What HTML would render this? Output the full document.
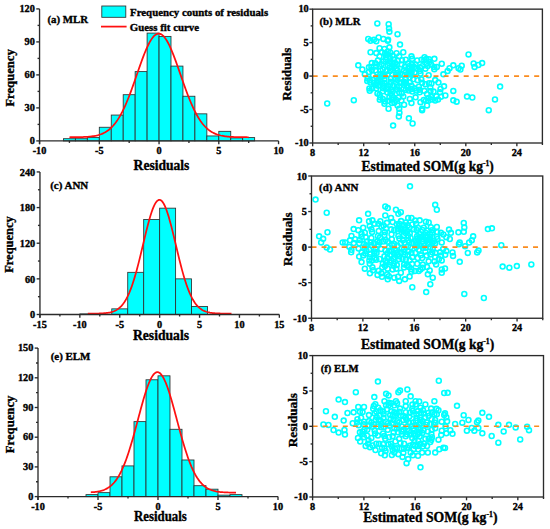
<!DOCTYPE html>
<html><head><meta charset="utf-8"><style>
html,body{margin:0;padding:0;background:#fff;width:550px;height:529px;overflow:hidden}
svg{display:block}
text{font-family:"Liberation Serif", serif;font-weight:bold;fill:#000;stroke:#000;stroke-width:0.35px}
</style></head><body>
<svg width="550" height="529" viewBox="0 0 550 529">
<rect width="550" height="529" fill="#fff"/>
<rect x="63.45" y="138.70" width="11.95" height="2.20" fill="#00FFFF" stroke="#303030" stroke-width="0.85"/>
<rect x="75.40" y="138.70" width="11.95" height="2.20" fill="#00FFFF" stroke="#303030" stroke-width="0.85"/>
<rect x="87.35" y="137.60" width="11.95" height="3.30" fill="#00FFFF" stroke="#303030" stroke-width="0.85"/>
<rect x="99.30" y="127.26" width="11.95" height="13.64" fill="#00FFFF" stroke="#303030" stroke-width="0.85"/>
<rect x="111.25" y="115.05" width="11.95" height="25.85" fill="#00FFFF" stroke="#303030" stroke-width="0.85"/>
<rect x="123.20" y="94.70" width="11.95" height="46.20" fill="#00FFFF" stroke="#303030" stroke-width="0.85"/>
<rect x="135.15" y="71.60" width="11.95" height="69.30" fill="#00FFFF" stroke="#303030" stroke-width="0.85"/>
<rect x="147.10" y="33.10" width="11.95" height="107.80" fill="#00FFFF" stroke="#303030" stroke-width="0.85"/>
<rect x="159.05" y="36.40" width="11.95" height="104.50" fill="#00FFFF" stroke="#303030" stroke-width="0.85"/>
<rect x="171.00" y="66.10" width="11.95" height="74.80" fill="#00FFFF" stroke="#303030" stroke-width="0.85"/>
<rect x="182.95" y="96.24" width="11.95" height="44.66" fill="#00FFFF" stroke="#303030" stroke-width="0.85"/>
<rect x="194.90" y="113.84" width="11.95" height="27.06" fill="#00FFFF" stroke="#303030" stroke-width="0.85"/>
<rect x="206.85" y="135.95" width="11.95" height="4.95" fill="#00FFFF" stroke="#303030" stroke-width="0.85"/>
<rect x="218.80" y="131.33" width="11.95" height="9.57" fill="#00FFFF" stroke="#303030" stroke-width="0.85"/>
<rect x="230.75" y="137.93" width="11.95" height="2.97" fill="#00FFFF" stroke="#303030" stroke-width="0.85"/>
<rect x="242.70" y="137.60" width="11.95" height="3.30" fill="#00FFFF" stroke="#303030" stroke-width="0.85"/>
<polyline points="69.42,137.25 70.55,137.24 71.67,137.24 72.79,137.23 73.91,137.22 75.03,137.21 76.15,137.19 77.27,137.18 78.39,137.16 79.51,137.13 80.63,137.10 81.75,137.07 82.87,137.03 83.99,136.99 85.11,136.93 86.23,136.87 87.35,136.79 88.47,136.71 89.59,136.60 90.71,136.49 91.83,136.35 92.95,136.19 94.07,136.02 95.19,135.81 96.31,135.58 97.43,135.31 98.55,135.00 99.67,134.66 100.79,134.27 101.91,133.84 103.03,133.35 104.15,132.80 105.27,132.19 106.40,131.52 107.52,130.77 108.64,129.94 109.76,129.03 110.88,128.03 112.00,126.93 113.12,125.74 114.24,124.44 115.36,123.03 116.48,121.52 117.60,119.88 118.72,118.13 119.84,116.26 120.96,114.26 122.08,112.15 123.20,109.91 124.32,107.55 125.44,105.07 126.56,102.48 127.68,99.77 128.80,96.97 129.92,94.07 131.04,91.09 132.16,88.03 133.28,84.90 134.40,81.73 135.52,78.52 136.64,75.28 137.76,72.05 138.88,68.83 140.00,65.63 141.12,62.49 142.25,59.42 143.37,56.43 144.49,53.55 145.61,50.80 146.73,48.20 147.85,45.76 148.97,43.51 150.09,41.45 151.21,39.61 152.33,37.99 153.45,36.62 154.57,35.50 155.69,34.63 156.81,34.04 157.93,33.71 159.05,33.66 160.17,33.89 161.29,34.39 162.41,35.15 163.53,36.18 164.65,37.47 165.77,39.00 166.89,40.76 168.01,42.74 169.13,44.93 170.25,47.30 171.37,49.85 172.49,52.55 173.61,55.38 174.73,58.33 175.85,61.37 176.97,64.49 178.10,67.67 179.22,70.89 180.34,74.12 181.46,77.35 182.58,80.57 183.70,83.76 184.82,86.91 185.94,89.99 187.06,93.01 188.18,95.94 189.30,98.78 190.42,101.51 191.54,104.15 192.66,106.67 193.78,109.07 194.90,111.35 196.02,113.51 197.14,115.55 198.26,117.47 199.38,119.27 200.50,120.94 201.62,122.50 202.74,123.95 203.86,125.28 204.98,126.51 206.10,127.64 207.22,128.68 208.34,129.62 209.46,130.48 210.58,131.25 211.70,131.96 212.82,132.59 213.95,133.16 215.07,133.67 216.19,134.12 217.31,134.53 218.43,134.89 219.55,135.20 220.67,135.48 221.79,135.73 222.91,135.94 224.03,136.13 225.15,136.30 226.27,136.44 227.39,136.56 228.51,136.67 229.63,136.76 230.75,136.84 231.87,136.91 232.99,136.97 234.11,137.02 235.23,137.06 236.35,137.09 237.47,137.12 238.59,137.15 239.71,137.17 240.83,137.19 241.95,137.20 243.07,137.21 244.19,137.22 245.31,137.23 246.43,137.24 247.55,137.25 248.68,137.25" fill="none" stroke="#FF1010" stroke-width="1.75"/>
<line x1="38.95" y1="140.90" x2="278.55" y2="140.90" stroke="#2b2b2b" stroke-width="1.35" />
<line x1="39.55" y1="144.20" x2="39.55" y2="8.90" stroke="#2b2b2b" stroke-width="1.35" />
<line x1="39.55" y1="140.90" x2="39.55" y2="144.20" stroke="#2b2b2b" stroke-width="1.35" />
<text transform="translate(39.55,153.90) scale(1.07,1)" font-size="9.6" text-anchor="middle" >-10</text>
<line x1="99.30" y1="140.90" x2="99.30" y2="144.20" stroke="#2b2b2b" stroke-width="1.35" />
<text transform="translate(99.30,153.90) scale(1.07,1)" font-size="9.6" text-anchor="middle" >-5</text>
<line x1="159.05" y1="140.90" x2="159.05" y2="144.20" stroke="#2b2b2b" stroke-width="1.35" />
<text transform="translate(159.05,153.90) scale(1.07,1)" font-size="9.6" text-anchor="middle" >0</text>
<line x1="218.80" y1="140.90" x2="218.80" y2="144.20" stroke="#2b2b2b" stroke-width="1.35" />
<text transform="translate(218.80,153.90) scale(1.07,1)" font-size="9.6" text-anchor="middle" >5</text>
<line x1="278.55" y1="140.90" x2="278.55" y2="144.20" stroke="#2b2b2b" stroke-width="1.35" />
<text transform="translate(278.55,153.90) scale(1.07,1)" font-size="9.6" text-anchor="middle" >10</text>
<line x1="69.42" y1="140.90" x2="69.42" y2="142.90" stroke="#2b2b2b" stroke-width="1.35" />
<line x1="129.18" y1="140.90" x2="129.18" y2="142.90" stroke="#2b2b2b" stroke-width="1.35" />
<line x1="188.93" y1="140.90" x2="188.93" y2="142.90" stroke="#2b2b2b" stroke-width="1.35" />
<line x1="248.68" y1="140.90" x2="248.68" y2="142.90" stroke="#2b2b2b" stroke-width="1.35" />
<line x1="39.55" y1="140.90" x2="36.25" y2="140.90" stroke="#2b2b2b" stroke-width="1.35" />
<text transform="translate(34.85,143.80) scale(1.07,1)" font-size="9.6" text-anchor="end" >0</text>
<line x1="39.55" y1="107.90" x2="36.25" y2="107.90" stroke="#2b2b2b" stroke-width="1.35" />
<text transform="translate(34.85,110.80) scale(1.07,1)" font-size="9.6" text-anchor="end" >30</text>
<line x1="39.55" y1="74.90" x2="36.25" y2="74.90" stroke="#2b2b2b" stroke-width="1.35" />
<text transform="translate(34.85,77.80) scale(1.07,1)" font-size="9.6" text-anchor="end" >60</text>
<line x1="39.55" y1="41.90" x2="36.25" y2="41.90" stroke="#2b2b2b" stroke-width="1.35" />
<text transform="translate(34.85,44.80) scale(1.07,1)" font-size="9.6" text-anchor="end" >90</text>
<line x1="39.55" y1="8.90" x2="36.25" y2="8.90" stroke="#2b2b2b" stroke-width="1.35" />
<text transform="translate(34.85,11.80) scale(1.07,1)" font-size="9.6" text-anchor="end" >120</text>
<line x1="39.55" y1="124.40" x2="37.55" y2="124.40" stroke="#2b2b2b" stroke-width="1.35" />
<line x1="39.55" y1="91.40" x2="37.55" y2="91.40" stroke="#2b2b2b" stroke-width="1.35" />
<line x1="39.55" y1="58.40" x2="37.55" y2="58.40" stroke="#2b2b2b" stroke-width="1.35" />
<line x1="39.55" y1="25.40" x2="37.55" y2="25.40" stroke="#2b2b2b" stroke-width="1.35" />
<rect x="79.85" y="313.91" width="15.96" height="0.59" fill="#00FFFF" stroke="#303030" stroke-width="0.85"/>
<rect x="111.77" y="308.86" width="15.96" height="5.64" fill="#00FFFF" stroke="#303030" stroke-width="0.85"/>
<rect x="127.73" y="272.33" width="15.96" height="42.17" fill="#00FFFF" stroke="#303030" stroke-width="0.85"/>
<rect x="143.69" y="219.46" width="15.96" height="95.04" fill="#00FFFF" stroke="#303030" stroke-width="0.85"/>
<rect x="159.65" y="208.17" width="15.96" height="106.33" fill="#00FFFF" stroke="#303030" stroke-width="0.85"/>
<rect x="175.61" y="278.86" width="15.96" height="35.64" fill="#00FFFF" stroke="#303030" stroke-width="0.85"/>
<rect x="191.57" y="306.42" width="15.96" height="8.08" fill="#00FFFF" stroke="#303030" stroke-width="0.85"/>
<polyline points="87.83,313.60 88.73,313.60 89.63,313.60 90.52,313.59 91.42,313.59 92.32,313.58 93.22,313.58 94.11,313.57 95.01,313.56 95.91,313.55 96.81,313.53 97.71,313.52 98.60,313.50 99.50,313.47 100.40,313.44 101.30,313.40 102.19,313.36 103.09,313.31 103.99,313.24 104.89,313.17 105.79,313.08 106.68,312.98 107.58,312.86 108.48,312.72 109.38,312.55 110.27,312.36 111.17,312.14 112.07,311.88 112.97,311.59 113.86,311.25 114.76,310.86 115.66,310.43 116.56,309.93 117.46,309.37 118.35,308.73 119.25,308.02 120.15,307.22 121.05,306.34 121.94,305.35 122.84,304.26 123.74,303.05 124.64,301.73 125.54,300.28 126.43,298.70 127.33,296.98 128.23,295.12 129.13,293.11 130.02,290.95 130.92,288.64 131.82,286.18 132.72,283.56 133.62,280.80 134.51,277.88 135.41,274.83 136.31,271.64 137.21,268.33 138.10,264.90 139.00,261.37 139.90,257.75 140.80,254.07 141.69,250.32 142.59,246.55 143.49,242.76 144.39,238.99 145.29,235.25 146.18,231.57 147.08,227.98 147.98,224.50 148.88,221.16 149.77,217.97 150.67,214.98 151.57,212.20 152.47,209.65 153.37,207.36 154.26,205.35 155.16,203.63 156.06,202.22 156.96,201.13 157.85,200.37 158.75,199.95 159.65,199.87 160.55,200.13 161.45,200.73 162.34,201.67 163.24,202.93 164.14,204.51 165.04,206.39 165.93,208.55 166.83,210.98 167.73,213.66 168.63,216.55 169.53,219.65 170.42,222.92 171.32,226.34 172.22,229.89 173.12,233.53 174.01,237.24 174.91,241.00 175.81,244.78 176.71,248.57 177.61,252.32 178.50,256.04 179.40,259.69 180.30,263.27 181.20,266.74 182.09,270.11 182.99,273.36 183.89,276.48 184.79,279.46 185.68,282.29 186.58,284.98 187.48,287.51 188.38,289.89 189.28,292.12 190.17,294.20 191.07,296.13 191.97,297.91 192.87,299.56 193.76,301.07 194.66,302.45 195.56,303.71 196.46,304.85 197.36,305.89 198.25,306.82 199.15,307.66 200.05,308.41 200.95,309.08 201.84,309.67 202.74,310.20 203.64,310.67 204.54,311.08 205.44,311.44 206.33,311.75 207.23,312.02 208.13,312.26 209.03,312.46 209.92,312.64 210.82,312.79 211.72,312.92 212.62,313.04 213.51,313.13 214.41,313.21 215.31,313.28 216.21,313.33 217.11,313.38 218.00,313.42 218.90,313.46 219.80,313.48 220.70,313.51 221.59,313.53 222.49,313.54 223.39,313.55 224.29,313.57 225.19,313.57 226.08,313.58 226.98,313.59 227.88,313.59 228.78,313.59 229.67,313.60 230.57,313.60 231.47,313.60" fill="none" stroke="#FF1010" stroke-width="1.75"/>
<line x1="39.35" y1="314.50" x2="279.35" y2="314.50" stroke="#2b2b2b" stroke-width="1.35" />
<line x1="39.95" y1="317.80" x2="39.95" y2="171.94" stroke="#2b2b2b" stroke-width="1.35" />
<line x1="39.95" y1="314.50" x2="39.95" y2="317.80" stroke="#2b2b2b" stroke-width="1.35" />
<text transform="translate(39.95,327.50) scale(1.07,1)" font-size="9.6" text-anchor="middle" >-15</text>
<line x1="79.85" y1="314.50" x2="79.85" y2="317.80" stroke="#2b2b2b" stroke-width="1.35" />
<text transform="translate(79.85,327.50) scale(1.07,1)" font-size="9.6" text-anchor="middle" >-10</text>
<line x1="119.75" y1="314.50" x2="119.75" y2="317.80" stroke="#2b2b2b" stroke-width="1.35" />
<text transform="translate(119.75,327.50) scale(1.07,1)" font-size="9.6" text-anchor="middle" >-5</text>
<line x1="159.65" y1="314.50" x2="159.65" y2="317.80" stroke="#2b2b2b" stroke-width="1.35" />
<text transform="translate(159.65,327.50) scale(1.07,1)" font-size="9.6" text-anchor="middle" >0</text>
<line x1="199.55" y1="314.50" x2="199.55" y2="317.80" stroke="#2b2b2b" stroke-width="1.35" />
<text transform="translate(199.55,327.50) scale(1.07,1)" font-size="9.6" text-anchor="middle" >5</text>
<line x1="239.45" y1="314.50" x2="239.45" y2="317.80" stroke="#2b2b2b" stroke-width="1.35" />
<text transform="translate(239.45,327.50) scale(1.07,1)" font-size="9.6" text-anchor="middle" >10</text>
<line x1="279.35" y1="314.50" x2="279.35" y2="317.80" stroke="#2b2b2b" stroke-width="1.35" />
<text transform="translate(279.35,327.50) scale(1.07,1)" font-size="9.6" text-anchor="middle" >15</text>
<line x1="59.90" y1="314.50" x2="59.90" y2="316.50" stroke="#2b2b2b" stroke-width="1.35" />
<line x1="99.80" y1="314.50" x2="99.80" y2="316.50" stroke="#2b2b2b" stroke-width="1.35" />
<line x1="139.70" y1="314.50" x2="139.70" y2="316.50" stroke="#2b2b2b" stroke-width="1.35" />
<line x1="179.60" y1="314.50" x2="179.60" y2="316.50" stroke="#2b2b2b" stroke-width="1.35" />
<line x1="219.50" y1="314.50" x2="219.50" y2="316.50" stroke="#2b2b2b" stroke-width="1.35" />
<line x1="259.40" y1="314.50" x2="259.40" y2="316.50" stroke="#2b2b2b" stroke-width="1.35" />
<line x1="39.95" y1="314.50" x2="36.65" y2="314.50" stroke="#2b2b2b" stroke-width="1.35" />
<text transform="translate(35.25,318.20) scale(1.07,1)" font-size="9.6" text-anchor="end" >0</text>
<line x1="39.95" y1="278.86" x2="36.65" y2="278.86" stroke="#2b2b2b" stroke-width="1.35" />
<text transform="translate(35.25,282.56) scale(1.07,1)" font-size="9.6" text-anchor="end" >60</text>
<line x1="39.95" y1="243.22" x2="36.65" y2="243.22" stroke="#2b2b2b" stroke-width="1.35" />
<text transform="translate(35.25,246.92) scale(1.07,1)" font-size="9.6" text-anchor="end" >120</text>
<line x1="39.95" y1="207.58" x2="36.65" y2="207.58" stroke="#2b2b2b" stroke-width="1.35" />
<text transform="translate(35.25,211.28) scale(1.07,1)" font-size="9.6" text-anchor="end" >180</text>
<line x1="39.95" y1="171.94" x2="36.65" y2="171.94" stroke="#2b2b2b" stroke-width="1.35" />
<text transform="translate(35.25,175.64) scale(1.07,1)" font-size="9.6" text-anchor="end" >240</text>
<line x1="39.95" y1="296.68" x2="37.95" y2="296.68" stroke="#2b2b2b" stroke-width="1.35" />
<line x1="39.95" y1="261.04" x2="37.95" y2="261.04" stroke="#2b2b2b" stroke-width="1.35" />
<line x1="39.95" y1="225.40" x2="37.95" y2="225.40" stroke="#2b2b2b" stroke-width="1.35" />
<line x1="39.95" y1="189.76" x2="37.95" y2="189.76" stroke="#2b2b2b" stroke-width="1.35" />
<rect x="86.00" y="494.62" width="12.00" height="1.98" fill="#00FFFF" stroke="#303030" stroke-width="0.85"/>
<rect x="98.00" y="492.64" width="12.00" height="3.96" fill="#00FFFF" stroke="#303030" stroke-width="0.85"/>
<rect x="110.00" y="476.80" width="12.00" height="19.80" fill="#00FFFF" stroke="#303030" stroke-width="0.85"/>
<rect x="122.00" y="465.91" width="12.00" height="30.69" fill="#00FFFF" stroke="#303030" stroke-width="0.85"/>
<rect x="134.00" y="421.61" width="12.00" height="74.99" fill="#00FFFF" stroke="#303030" stroke-width="0.85"/>
<rect x="146.00" y="379.78" width="12.00" height="116.82" fill="#00FFFF" stroke="#303030" stroke-width="0.85"/>
<rect x="158.00" y="375.82" width="12.00" height="120.78" fill="#00FFFF" stroke="#303030" stroke-width="0.85"/>
<rect x="170.00" y="429.28" width="12.00" height="67.32" fill="#00FFFF" stroke="#303030" stroke-width="0.85"/>
<rect x="182.00" y="459.97" width="12.00" height="36.63" fill="#00FFFF" stroke="#303030" stroke-width="0.85"/>
<rect x="194.00" y="485.71" width="12.00" height="10.89" fill="#00FFFF" stroke="#303030" stroke-width="0.85"/>
<rect x="206.00" y="489.18" width="12.00" height="7.43" fill="#00FFFF" stroke="#303030" stroke-width="0.85"/>
<rect x="218.00" y="495.12" width="12.00" height="1.49" fill="#00FFFF" stroke="#303030" stroke-width="0.85"/>
<rect x="230.00" y="494.62" width="12.00" height="1.98" fill="#00FFFF" stroke="#303030" stroke-width="0.85"/>
<polyline points="90.80,492.30 91.71,492.24 92.62,492.17 93.52,492.10 94.43,492.01 95.34,491.90 96.25,491.78 97.15,491.65 98.06,491.50 98.97,491.32 99.88,491.13 100.78,490.91 101.69,490.66 102.60,490.37 103.50,490.06 104.41,489.70 105.32,489.31 106.23,488.87 107.14,488.38 108.04,487.84 108.95,487.24 109.86,486.58 110.77,485.86 111.67,485.06 112.58,484.19 113.49,483.24 114.39,482.21 115.30,481.09 116.21,479.87 117.12,478.56 118.03,477.15 118.93,475.63 119.84,474.01 120.75,472.27 121.66,470.42 122.56,468.45 123.47,466.37 124.38,464.17 125.29,461.86 126.19,459.43 127.10,456.88 128.01,454.22 128.91,451.46 129.82,448.59 130.73,445.63 131.64,442.57 132.55,439.43 133.45,436.22 134.36,432.95 135.27,429.62 136.18,426.25 137.08,422.86 137.99,419.45 138.90,416.04 139.81,412.65 140.71,409.29 141.62,405.97 142.53,402.73 143.44,399.56 144.34,396.49 145.25,393.53 146.16,390.71 147.06,388.04 147.97,385.52 148.88,383.19 149.79,381.05 150.69,379.11 151.60,377.40 152.51,375.91 153.42,374.66 154.33,373.65 155.23,372.90 156.14,372.41 157.05,372.18 157.95,372.21 158.86,372.50 159.77,373.05 160.68,373.86 161.59,374.92 162.49,376.22 163.40,377.76 164.31,379.53 165.22,381.51 166.12,383.69 167.03,386.07 167.94,388.62 168.84,391.33 169.75,394.18 170.66,397.16 171.57,400.26 172.48,403.44 173.38,406.71 174.29,410.03 175.20,413.40 176.10,416.80 177.01,420.21 177.92,423.62 178.83,427.01 179.74,430.37 180.64,433.68 181.55,436.95 182.46,440.14 183.37,443.26 184.27,446.30 185.18,449.24 186.09,452.08 187.00,454.83 187.90,457.46 188.81,459.98 189.72,462.38 190.62,464.67 191.53,466.85 192.44,468.90 193.35,470.84 194.25,472.67 195.16,474.38 196.07,475.98 196.98,477.47 197.88,478.86 198.79,480.15 199.70,481.35 200.61,482.45 201.52,483.46 202.42,484.39 203.33,485.25 204.24,486.03 205.14,486.74 206.05,487.38 206.96,487.97 207.87,488.50 208.78,488.97 209.68,489.40 210.59,489.79 211.50,490.13 212.41,490.44 213.31,490.71 214.22,490.96 215.13,491.17 216.03,491.37 216.94,491.53 217.85,491.68 218.76,491.81 219.66,491.93 220.57,492.03 221.48,492.11 222.39,492.19 223.30,492.25 224.20,492.31 225.11,492.36 226.02,492.40 226.93,492.44 227.83,492.47 228.74,492.50 229.65,492.52 230.56,492.54 231.46,492.56 232.37,492.57 233.28,492.58 234.19,492.59 235.09,492.60 236.00,492.61" fill="none" stroke="#FF1010" stroke-width="1.75"/>
<line x1="37.40" y1="496.60" x2="278.00" y2="496.60" stroke="#2b2b2b" stroke-width="1.35" />
<line x1="38.00" y1="499.90" x2="38.00" y2="348.10" stroke="#2b2b2b" stroke-width="1.35" />
<line x1="38.00" y1="496.60" x2="38.00" y2="499.90" stroke="#2b2b2b" stroke-width="1.35" />
<text transform="translate(38.00,509.60) scale(1.07,1)" font-size="9.6" text-anchor="middle" >-10</text>
<line x1="98.00" y1="496.60" x2="98.00" y2="499.90" stroke="#2b2b2b" stroke-width="1.35" />
<text transform="translate(98.00,509.60) scale(1.07,1)" font-size="9.6" text-anchor="middle" >-5</text>
<line x1="158.00" y1="496.60" x2="158.00" y2="499.90" stroke="#2b2b2b" stroke-width="1.35" />
<text transform="translate(158.00,509.60) scale(1.07,1)" font-size="9.6" text-anchor="middle" >0</text>
<line x1="218.00" y1="496.60" x2="218.00" y2="499.90" stroke="#2b2b2b" stroke-width="1.35" />
<text transform="translate(218.00,509.60) scale(1.07,1)" font-size="9.6" text-anchor="middle" >5</text>
<line x1="278.00" y1="496.60" x2="278.00" y2="499.90" stroke="#2b2b2b" stroke-width="1.35" />
<text transform="translate(278.00,509.60) scale(1.07,1)" font-size="9.6" text-anchor="middle" >10</text>
<line x1="68.00" y1="496.60" x2="68.00" y2="498.60" stroke="#2b2b2b" stroke-width="1.35" />
<line x1="128.00" y1="496.60" x2="128.00" y2="498.60" stroke="#2b2b2b" stroke-width="1.35" />
<line x1="188.00" y1="496.60" x2="188.00" y2="498.60" stroke="#2b2b2b" stroke-width="1.35" />
<line x1="248.00" y1="496.60" x2="248.00" y2="498.60" stroke="#2b2b2b" stroke-width="1.35" />
<line x1="38.00" y1="496.60" x2="34.70" y2="496.60" stroke="#2b2b2b" stroke-width="1.35" />
<text transform="translate(33.30,499.80) scale(1.07,1)" font-size="9.6" text-anchor="end" >0</text>
<line x1="38.00" y1="466.90" x2="34.70" y2="466.90" stroke="#2b2b2b" stroke-width="1.35" />
<text transform="translate(33.30,470.10) scale(1.07,1)" font-size="9.6" text-anchor="end" >30</text>
<line x1="38.00" y1="437.20" x2="34.70" y2="437.20" stroke="#2b2b2b" stroke-width="1.35" />
<text transform="translate(33.30,440.40) scale(1.07,1)" font-size="9.6" text-anchor="end" >60</text>
<line x1="38.00" y1="407.50" x2="34.70" y2="407.50" stroke="#2b2b2b" stroke-width="1.35" />
<text transform="translate(33.30,410.70) scale(1.07,1)" font-size="9.6" text-anchor="end" >90</text>
<line x1="38.00" y1="377.80" x2="34.70" y2="377.80" stroke="#2b2b2b" stroke-width="1.35" />
<text transform="translate(33.30,381.00) scale(1.07,1)" font-size="9.6" text-anchor="end" >120</text>
<line x1="38.00" y1="348.10" x2="34.70" y2="348.10" stroke="#2b2b2b" stroke-width="1.35" />
<text transform="translate(33.30,351.30) scale(1.07,1)" font-size="9.6" text-anchor="end" >150</text>
<line x1="38.00" y1="481.75" x2="36.00" y2="481.75" stroke="#2b2b2b" stroke-width="1.35" />
<line x1="38.00" y1="452.05" x2="36.00" y2="452.05" stroke="#2b2b2b" stroke-width="1.35" />
<line x1="38.00" y1="422.35" x2="36.00" y2="422.35" stroke="#2b2b2b" stroke-width="1.35" />
<line x1="38.00" y1="392.65" x2="36.00" y2="392.65" stroke="#2b2b2b" stroke-width="1.35" />
<line x1="38.00" y1="362.95" x2="36.00" y2="362.95" stroke="#2b2b2b" stroke-width="1.35" />
<rect x="101.8" y="6.0" width="24" height="11.3" fill="#00FFFF" stroke="#303030" stroke-width="0.85"/>
<line x1="101.00" y1="26.60" x2="126.60" y2="26.60" stroke="#FF1010" stroke-width="1.75" />
<g fill="none" stroke="#00FFFF" stroke-width="1.6"><circle cx="327.20" cy="103.50" r="2.45"/><circle cx="353.80" cy="100.20" r="2.45"/><circle cx="393.10" cy="125.60" r="2.45"/><circle cx="412.60" cy="123.50" r="2.45"/><circle cx="377.31" cy="23.40" r="2.45"/><circle cx="388.65" cy="24.16" r="2.45"/><circle cx="389.03" cy="28.51" r="2.45"/><circle cx="389.40" cy="31.72" r="2.45"/><circle cx="397.53" cy="34.18" r="2.45"/><circle cx="368.23" cy="38.90" r="2.45"/><circle cx="373.90" cy="39.85" r="2.45"/><circle cx="378.63" cy="37.39" r="2.45"/><circle cx="383.36" cy="38.90" r="2.45"/><circle cx="388.08" cy="39.85" r="2.45"/><circle cx="449.52" cy="68.20" r="2.45"/><circle cx="453.30" cy="65.37" r="2.45"/><circle cx="447.63" cy="71.04" r="2.45"/><circle cx="453.30" cy="90.89" r="2.45"/><circle cx="453.30" cy="100.34" r="2.45"/><circle cx="422.11" cy="110.36" r="2.45"/><circle cx="399.42" cy="112.63" r="2.45"/><circle cx="398.86" cy="116.41" r="2.45"/><circle cx="408.88" cy="118.30" r="2.45"/><circle cx="468.53" cy="54.40" r="2.45"/><circle cx="458.51" cy="68.20" r="2.45"/><circle cx="461.72" cy="65.75" r="2.45"/><circle cx="460.40" cy="69.53" r="2.45"/><circle cx="473.63" cy="63.48" r="2.45"/><circle cx="474.57" cy="66.88" r="2.45"/><circle cx="478.36" cy="64.99" r="2.45"/><circle cx="482.14" cy="63.10" r="2.45"/><circle cx="500.09" cy="86.54" r="2.45"/><circle cx="456.62" cy="101.66" r="2.45"/><circle cx="467.01" cy="96.56" r="2.45"/><circle cx="472.31" cy="97.50" r="2.45"/><circle cx="494.99" cy="99.40" r="2.45"/><circle cx="488.75" cy="110.17" r="2.45"/><circle cx="370.55" cy="40.82" r="2.45"/><circle cx="376.28" cy="41.31" r="2.45"/><circle cx="387.73" cy="40.82" r="2.45"/><circle cx="400.01" cy="44.58" r="2.45"/><circle cx="379.55" cy="48.18" r="2.45"/><circle cx="389.37" cy="47.36" r="2.45"/><circle cx="384.46" cy="49.00" r="2.45"/><circle cx="370.55" cy="52.27" r="2.45"/><circle cx="376.28" cy="53.09" r="2.45"/><circle cx="382.00" cy="52.27" r="2.45"/><circle cx="387.73" cy="51.46" r="2.45"/><circle cx="403.28" cy="52.27" r="2.45"/><circle cx="379.55" cy="56.37" r="2.45"/><circle cx="386.10" cy="57.18" r="2.45"/><circle cx="392.64" cy="55.55" r="2.45"/><circle cx="399.19" cy="56.37" r="2.45"/><circle cx="411.46" cy="56.37" r="2.45"/><circle cx="424.56" cy="57.18" r="2.45"/><circle cx="434.38" cy="58.82" r="2.45"/><circle cx="377.91" cy="60.46" r="2.45"/><circle cx="383.64" cy="61.28" r="2.45"/><circle cx="390.19" cy="61.28" r="2.45"/><circle cx="397.55" cy="60.46" r="2.45"/><circle cx="405.74" cy="59.64" r="2.45"/><circle cx="417.19" cy="60.46" r="2.45"/><circle cx="429.47" cy="62.09" r="2.45"/><circle cx="441.74" cy="63.73" r="2.45"/><circle cx="358.27" cy="65.37" r="2.45"/><circle cx="371.37" cy="67.00" r="2.45"/><circle cx="379.55" cy="66.19" r="2.45"/><circle cx="387.73" cy="65.37" r="2.45"/><circle cx="394.28" cy="66.19" r="2.45"/><circle cx="401.64" cy="64.55" r="2.45"/><circle cx="409.01" cy="66.19" r="2.45"/><circle cx="415.56" cy="64.55" r="2.45"/><circle cx="422.10" cy="66.19" r="2.45"/><circle cx="431.10" cy="64.55" r="2.45"/><circle cx="436.83" cy="67.00" r="2.45"/><circle cx="362.36" cy="69.46" r="2.45"/><circle cx="368.91" cy="71.91" r="2.45"/><circle cx="375.46" cy="70.28" r="2.45"/><circle cx="382.82" cy="69.46" r="2.45"/><circle cx="390.19" cy="71.10" r="2.45"/><circle cx="397.55" cy="70.28" r="2.45"/><circle cx="404.10" cy="70.28" r="2.45"/><circle cx="411.46" cy="69.46" r="2.45"/><circle cx="419.65" cy="71.10" r="2.45"/><circle cx="425.38" cy="68.64" r="2.45"/><circle cx="364.82" cy="74.37" r="2.45"/><circle cx="373.00" cy="75.19" r="2.45"/><circle cx="380.37" cy="74.37" r="2.45"/><circle cx="387.73" cy="74.37" r="2.45"/><circle cx="395.92" cy="75.19" r="2.45"/><circle cx="402.46" cy="74.70" r="2.45"/><circle cx="410.65" cy="74.37" r="2.45"/><circle cx="420.47" cy="73.55" r="2.45"/><circle cx="428.65" cy="75.19" r="2.45"/><circle cx="443.38" cy="74.37" r="2.45"/><circle cx="370.55" cy="82.55" r="2.45"/><circle cx="377.91" cy="80.10" r="2.45"/><circle cx="384.46" cy="79.28" r="2.45"/><circle cx="391.01" cy="78.46" r="2.45"/><circle cx="397.55" cy="80.10" r="2.45"/><circle cx="405.74" cy="79.28" r="2.45"/><circle cx="413.10" cy="79.28" r="2.45"/><circle cx="421.28" cy="79.28" r="2.45"/><circle cx="435.20" cy="80.10" r="2.45"/><circle cx="438.47" cy="82.55" r="2.45"/><circle cx="376.28" cy="88.28" r="2.45"/><circle cx="383.64" cy="85.83" r="2.45"/><circle cx="390.19" cy="84.19" r="2.45"/><circle cx="396.73" cy="86.64" r="2.45"/><circle cx="404.10" cy="85.01" r="2.45"/><circle cx="411.46" cy="85.83" r="2.45"/><circle cx="418.83" cy="86.64" r="2.45"/><circle cx="425.38" cy="84.19" r="2.45"/><circle cx="430.29" cy="87.46" r="2.45"/><circle cx="379.55" cy="94.83" r="2.45"/><circle cx="386.10" cy="89.10" r="2.45"/><circle cx="392.64" cy="91.55" r="2.45"/><circle cx="399.19" cy="92.37" r="2.45"/><circle cx="405.74" cy="89.92" r="2.45"/><circle cx="412.28" cy="91.55" r="2.45"/><circle cx="419.65" cy="92.37" r="2.45"/><circle cx="427.01" cy="94.01" r="2.45"/><circle cx="433.56" cy="91.55" r="2.45"/><circle cx="440.11" cy="92.37" r="2.45"/><circle cx="382.82" cy="98.92" r="2.45"/><circle cx="389.37" cy="97.28" r="2.45"/><circle cx="395.92" cy="99.74" r="2.45"/><circle cx="403.28" cy="96.46" r="2.45"/><circle cx="409.83" cy="98.92" r="2.45"/><circle cx="415.56" cy="97.28" r="2.45"/><circle cx="428.65" cy="98.10" r="2.45"/><circle cx="435.20" cy="100.56" r="2.45"/><circle cx="384.46" cy="103.83" r="2.45"/><circle cx="391.82" cy="103.01" r="2.45"/><circle cx="397.55" cy="105.47" r="2.45"/><circle cx="404.10" cy="104.65" r="2.45"/><circle cx="411.46" cy="103.01" r="2.45"/><circle cx="420.47" cy="102.19" r="2.45"/><circle cx="427.01" cy="105.47" r="2.45"/><circle cx="388.55" cy="108.74" r="2.45"/><circle cx="399.19" cy="108.74" r="2.45"/><circle cx="422.10" cy="108.74" r="2.45"/><circle cx="393.48" cy="97.50" r="2.45"/><circle cx="377.47" cy="93.48" r="2.45"/><circle cx="391.33" cy="89.38" r="2.45"/><circle cx="409.58" cy="77.52" r="2.45"/><circle cx="386.28" cy="71.17" r="2.45"/><circle cx="390.76" cy="81.71" r="2.45"/><circle cx="397.12" cy="73.13" r="2.45"/><circle cx="399.17" cy="86.23" r="2.45"/><circle cx="408.31" cy="74.41" r="2.45"/><circle cx="376.61" cy="77.30" r="2.45"/><circle cx="389.58" cy="67.53" r="2.45"/><circle cx="401.99" cy="60.25" r="2.45"/><circle cx="384.46" cy="82.76" r="2.45"/><circle cx="373.68" cy="82.65" r="2.45"/><circle cx="371.78" cy="70.10" r="2.45"/><circle cx="409.28" cy="71.24" r="2.45"/><circle cx="369.39" cy="88.43" r="2.45"/><circle cx="385.18" cy="53.39" r="2.45"/><circle cx="391.88" cy="95.22" r="2.45"/><circle cx="380.56" cy="70.47" r="2.45"/><circle cx="383.13" cy="88.19" r="2.45"/><circle cx="387.27" cy="92.43" r="2.45"/><circle cx="392.51" cy="74.39" r="2.45"/><circle cx="368.94" cy="67.28" r="2.45"/><circle cx="380.28" cy="97.34" r="2.45"/><circle cx="404.81" cy="66.69" r="2.45"/><circle cx="393.24" cy="85.82" r="2.45"/><circle cx="382.02" cy="76.12" r="2.45"/><circle cx="397.11" cy="89.53" r="2.45"/><circle cx="396.97" cy="64.53" r="2.45"/><circle cx="382.78" cy="91.32" r="2.45"/><circle cx="377.98" cy="85.73" r="2.45"/><circle cx="399.98" cy="73.65" r="2.45"/><circle cx="411.73" cy="64.34" r="2.45"/><circle cx="417.71" cy="80.13" r="2.45"/><circle cx="403.81" cy="81.83" r="2.45"/><circle cx="396.16" cy="82.14" r="2.45"/><circle cx="407.79" cy="87.49" r="2.45"/><circle cx="400.58" cy="82.71" r="2.45"/><circle cx="395.11" cy="63.06" r="2.45"/><circle cx="367.70" cy="78.59" r="2.45"/><circle cx="380.65" cy="80.85" r="2.45"/><circle cx="406.78" cy="85.13" r="2.45"/><circle cx="405.92" cy="72.13" r="2.45"/><circle cx="389.95" cy="58.01" r="2.45"/><circle cx="408.56" cy="90.54" r="2.45"/><circle cx="400.68" cy="78.27" r="2.45"/><circle cx="411.61" cy="71.95" r="2.45"/><circle cx="394.04" cy="59.44" r="2.45"/><circle cx="392.00" cy="99.58" r="2.45"/><circle cx="392.35" cy="62.40" r="2.45"/><circle cx="391.85" cy="68.77" r="2.45"/><circle cx="369.73" cy="80.29" r="2.45"/><circle cx="408.30" cy="68.58" r="2.45"/><circle cx="398.50" cy="97.66" r="2.45"/><circle cx="385.07" cy="101.38" r="2.45"/><circle cx="367.26" cy="80.92" r="2.45"/><circle cx="394.37" cy="102.70" r="2.45"/><circle cx="401.37" cy="100.49" r="2.45"/><circle cx="375.43" cy="85.02" r="2.45"/><circle cx="384.44" cy="75.84" r="2.45"/><circle cx="388.42" cy="100.81" r="2.45"/><circle cx="414.63" cy="72.39" r="2.45"/><circle cx="387.32" cy="54.97" r="2.45"/><circle cx="382.96" cy="73.99" r="2.45"/><circle cx="379.79" cy="99.71" r="2.45"/><circle cx="375.76" cy="66.59" r="2.45"/><circle cx="381.64" cy="64.20" r="2.45"/><circle cx="388.28" cy="86.98" r="2.45"/><circle cx="414.48" cy="88.34" r="2.45"/><circle cx="390.48" cy="93.26" r="2.45"/><circle cx="380.25" cy="77.65" r="2.45"/><circle cx="396.55" cy="53.27" r="2.45"/><circle cx="369.72" cy="90.87" r="2.45"/><circle cx="371.80" cy="63.05" r="2.45"/><circle cx="409.88" cy="82.24" r="2.45"/><circle cx="406.00" cy="82.61" r="2.45"/><circle cx="414.19" cy="67.04" r="2.45"/><circle cx="401.72" cy="93.49" r="2.45"/><circle cx="385.93" cy="59.60" r="2.45"/><circle cx="372.07" cy="88.62" r="2.45"/><circle cx="389.18" cy="63.35" r="2.45"/><circle cx="395.09" cy="79.22" r="2.45"/><circle cx="376.88" cy="83.12" r="2.45"/><circle cx="398.31" cy="75.80" r="2.45"/><circle cx="403.65" cy="88.23" r="2.45"/><circle cx="390.37" cy="52.67" r="2.45"/><circle cx="382.32" cy="83.75" r="2.45"/><circle cx="411.72" cy="88.99" r="2.45"/><circle cx="375.27" cy="63.17" r="2.45"/><circle cx="396.20" cy="68.27" r="2.45"/><circle cx="419.60" cy="89.71" r="2.45"/><circle cx="423.72" cy="99.96" r="2.45"/><circle cx="440.97" cy="96.63" r="2.45"/><circle cx="429.07" cy="83.23" r="2.45"/><circle cx="422.19" cy="82.79" r="2.45"/><circle cx="431.99" cy="99.61" r="2.45"/><circle cx="431.16" cy="96.95" r="2.45"/><circle cx="444.02" cy="86.31" r="2.45"/><circle cx="440.50" cy="88.99" r="2.45"/><circle cx="431.44" cy="83.51" r="2.45"/><circle cx="416.39" cy="90.54" r="2.45"/><circle cx="445.36" cy="95.50" r="2.45"/><circle cx="428.34" cy="100.82" r="2.45"/><circle cx="436.45" cy="96.28" r="2.45"/><circle cx="425.94" cy="100.67" r="2.45"/><circle cx="430.48" cy="90.88" r="2.45"/><circle cx="438.00" cy="99.60" r="2.45"/><circle cx="424.37" cy="90.87" r="2.45"/><circle cx="427.70" cy="66.01" r="2.45"/><circle cx="421.68" cy="59.67" r="2.45"/><circle cx="434.31" cy="66.91" r="2.45"/><circle cx="411.88" cy="66.83" r="2.45"/><circle cx="420.11" cy="67.59" r="2.45"/><circle cx="426.38" cy="59.00" r="2.45"/><circle cx="408.24" cy="63.57" r="2.45"/><circle cx="424.30" cy="60.02" r="2.45"/><circle cx="434.27" cy="69.28" r="2.45"/><circle cx="426.66" cy="63.55" r="2.45"/><circle cx="416.15" cy="68.49" r="2.45"/><circle cx="428.93" cy="59.24" r="2.45"/><circle cx="412.10" cy="58.84" r="2.45"/></g>
<line x1="312.65" y1="76.08" x2="542.40" y2="76.08" stroke="#FA8C1E" stroke-width="1.6" stroke-dasharray="5 5.07"/>
<rect x="312.65" y="9.15" width="229.75" height="133.85" fill="none" stroke="#2b2b2b" stroke-width="1.35"/>
<line x1="312.65" y1="143.00" x2="312.65" y2="146.30" stroke="#2b2b2b" stroke-width="1.35" />
<text transform="translate(312.65,156.00) scale(1.07,1)" font-size="9.6" text-anchor="middle" >8</text>
<line x1="363.71" y1="143.00" x2="363.71" y2="146.30" stroke="#2b2b2b" stroke-width="1.35" />
<text transform="translate(363.71,156.00) scale(1.07,1)" font-size="9.6" text-anchor="middle" >12</text>
<line x1="414.76" y1="143.00" x2="414.76" y2="146.30" stroke="#2b2b2b" stroke-width="1.35" />
<text transform="translate(414.76,156.00) scale(1.07,1)" font-size="9.6" text-anchor="middle" >16</text>
<line x1="465.82" y1="143.00" x2="465.82" y2="146.30" stroke="#2b2b2b" stroke-width="1.35" />
<text transform="translate(465.82,156.00) scale(1.07,1)" font-size="9.6" text-anchor="middle" >20</text>
<line x1="516.87" y1="143.00" x2="516.87" y2="146.30" stroke="#2b2b2b" stroke-width="1.35" />
<text transform="translate(516.87,156.00) scale(1.07,1)" font-size="9.6" text-anchor="middle" >24</text>
<line x1="338.18" y1="143.00" x2="338.18" y2="145.00" stroke="#2b2b2b" stroke-width="1.35" />
<line x1="389.23" y1="143.00" x2="389.23" y2="145.00" stroke="#2b2b2b" stroke-width="1.35" />
<line x1="440.29" y1="143.00" x2="440.29" y2="145.00" stroke="#2b2b2b" stroke-width="1.35" />
<line x1="491.34" y1="143.00" x2="491.34" y2="145.00" stroke="#2b2b2b" stroke-width="1.35" />
<line x1="542.40" y1="143.00" x2="542.40" y2="145.00" stroke="#2b2b2b" stroke-width="1.35" />
<line x1="312.65" y1="143.00" x2="309.35" y2="143.00" stroke="#2b2b2b" stroke-width="1.35" />
<text transform="translate(308.75,146.00) scale(1.07,1)" font-size="9.6" text-anchor="end" >-10</text>
<line x1="312.65" y1="109.54" x2="309.35" y2="109.54" stroke="#2b2b2b" stroke-width="1.35" />
<text transform="translate(308.75,112.54) scale(1.07,1)" font-size="9.6" text-anchor="end" >-5</text>
<line x1="312.65" y1="76.08" x2="309.35" y2="76.08" stroke="#2b2b2b" stroke-width="1.35" />
<text transform="translate(308.75,79.08) scale(1.07,1)" font-size="9.6" text-anchor="end" >0</text>
<line x1="312.65" y1="42.61" x2="309.35" y2="42.61" stroke="#2b2b2b" stroke-width="1.35" />
<text transform="translate(308.75,45.61) scale(1.07,1)" font-size="9.6" text-anchor="end" >5</text>
<line x1="312.65" y1="9.15" x2="309.35" y2="9.15" stroke="#2b2b2b" stroke-width="1.35" />
<text transform="translate(308.75,12.15) scale(1.07,1)" font-size="9.6" text-anchor="end" >10</text>
<line x1="312.65" y1="126.27" x2="310.65" y2="126.27" stroke="#2b2b2b" stroke-width="1.35" />
<line x1="312.65" y1="92.81" x2="310.65" y2="92.81" stroke="#2b2b2b" stroke-width="1.35" />
<line x1="312.65" y1="59.34" x2="310.65" y2="59.34" stroke="#2b2b2b" stroke-width="1.35" />
<line x1="312.65" y1="25.88" x2="310.65" y2="25.88" stroke="#2b2b2b" stroke-width="1.35" />
<g fill="none" stroke="#00FFFF" stroke-width="1.6"><circle cx="315.56" cy="199.57" r="2.45"/><circle cx="326.71" cy="212.75" r="2.45"/><circle cx="327.47" cy="232.26" r="2.45"/><circle cx="319.11" cy="236.31" r="2.45"/><circle cx="323.16" cy="238.85" r="2.45"/><circle cx="321.14" cy="242.40" r="2.45"/><circle cx="326.71" cy="247.46" r="2.45"/><circle cx="330.01" cy="249.49" r="2.45"/><circle cx="342.68" cy="242.40" r="2.45"/><circle cx="345.21" cy="242.40" r="2.45"/><circle cx="410.00" cy="186.36" r="2.45"/><circle cx="353.64" cy="229.09" r="2.45"/><circle cx="463.77" cy="222.92" r="2.45"/><circle cx="464.30" cy="227.47" r="2.45"/><circle cx="463.77" cy="231.76" r="2.45"/><circle cx="449.02" cy="229.62" r="2.45"/><circle cx="450.90" cy="232.84" r="2.45"/><circle cx="446.34" cy="237.13" r="2.45"/><circle cx="449.83" cy="239.00" r="2.45"/><circle cx="458.40" cy="232.30" r="2.45"/><circle cx="473.15" cy="236.32" r="2.45"/><circle cx="471.81" cy="240.34" r="2.45"/><circle cx="469.13" cy="242.49" r="2.45"/><circle cx="459.75" cy="242.49" r="2.45"/><circle cx="458.94" cy="244.36" r="2.45"/><circle cx="465.11" cy="246.24" r="2.45"/><circle cx="501.30" cy="245.17" r="2.45"/><circle cx="487.90" cy="229.08" r="2.45"/><circle cx="491.92" cy="228.28" r="2.45"/><circle cx="446.34" cy="251.07" r="2.45"/><circle cx="452.51" cy="252.41" r="2.45"/><circle cx="453.04" cy="255.89" r="2.45"/><circle cx="467.79" cy="252.94" r="2.45"/><circle cx="477.17" cy="252.41" r="2.45"/><circle cx="478.51" cy="250.53" r="2.45"/><circle cx="459.75" cy="261.79" r="2.45"/><circle cx="445.00" cy="268.49" r="2.45"/><circle cx="502.64" cy="266.62" r="2.45"/><circle cx="509.34" cy="267.69" r="2.45"/><circle cx="516.85" cy="266.08" r="2.45"/><circle cx="531.33" cy="264.47" r="2.45"/><circle cx="464.30" cy="293.96" r="2.45"/><circle cx="483.87" cy="297.98" r="2.45"/><circle cx="385.28" cy="206.46" r="2.45"/><circle cx="387.73" cy="208.09" r="2.45"/><circle cx="395.92" cy="209.73" r="2.45"/><circle cx="398.37" cy="213.82" r="2.45"/><circle cx="400.83" cy="212.18" r="2.45"/><circle cx="435.20" cy="204.82" r="2.45"/><circle cx="436.83" cy="209.73" r="2.45"/><circle cx="368.09" cy="213.82" r="2.45"/><circle cx="359.09" cy="220.37" r="2.45"/><circle cx="385.28" cy="215.46" r="2.45"/><circle cx="391.01" cy="217.91" r="2.45"/><circle cx="408.19" cy="217.91" r="2.45"/><circle cx="411.46" cy="217.91" r="2.45"/><circle cx="419.65" cy="220.37" r="2.45"/><circle cx="374.64" cy="223.64" r="2.45"/><circle cx="380.37" cy="221.19" r="2.45"/><circle cx="386.91" cy="222.82" r="2.45"/><circle cx="392.64" cy="222.00" r="2.45"/><circle cx="399.19" cy="223.64" r="2.45"/><circle cx="404.10" cy="225.28" r="2.45"/><circle cx="412.28" cy="224.46" r="2.45"/><circle cx="423.74" cy="227.73" r="2.45"/><circle cx="436.83" cy="226.91" r="2.45"/><circle cx="363.18" cy="227.73" r="2.45"/><circle cx="369.73" cy="226.10" r="2.45"/><circle cx="358.27" cy="230.19" r="2.45"/><circle cx="364.82" cy="232.64" r="2.45"/><circle cx="371.37" cy="229.37" r="2.45"/><circle cx="378.73" cy="231.01" r="2.45"/><circle cx="386.10" cy="228.55" r="2.45"/><circle cx="394.28" cy="230.19" r="2.45"/><circle cx="400.83" cy="229.37" r="2.45"/><circle cx="407.37" cy="231.01" r="2.45"/><circle cx="413.92" cy="229.37" r="2.45"/><circle cx="418.01" cy="227.73" r="2.45"/><circle cx="425.38" cy="232.64" r="2.45"/><circle cx="431.92" cy="230.19" r="2.45"/><circle cx="440.92" cy="232.64" r="2.45"/><circle cx="361.55" cy="236.73" r="2.45"/><circle cx="371.37" cy="237.88" r="2.45"/><circle cx="377.91" cy="235.92" r="2.45"/><circle cx="384.46" cy="235.10" r="2.45"/><circle cx="391.82" cy="239.19" r="2.45"/><circle cx="398.37" cy="235.92" r="2.45"/><circle cx="404.10" cy="235.10" r="2.45"/><circle cx="410.65" cy="237.88" r="2.45"/><circle cx="417.19" cy="235.92" r="2.45"/><circle cx="423.74" cy="239.19" r="2.45"/><circle cx="430.29" cy="236.73" r="2.45"/><circle cx="436.83" cy="236.73" r="2.45"/><circle cx="441.74" cy="242.46" r="2.45"/><circle cx="364.00" cy="244.10" r="2.45"/><circle cx="370.55" cy="242.46" r="2.45"/><circle cx="379.55" cy="242.46" r="2.45"/><circle cx="387.73" cy="241.64" r="2.45"/><circle cx="394.28" cy="244.10" r="2.45"/><circle cx="400.83" cy="243.28" r="2.45"/><circle cx="409.01" cy="242.46" r="2.45"/><circle cx="415.56" cy="243.28" r="2.45"/><circle cx="422.10" cy="241.64" r="2.45"/><circle cx="428.65" cy="244.10" r="2.45"/><circle cx="435.20" cy="243.28" r="2.45"/><circle cx="366.46" cy="250.65" r="2.45"/><circle cx="374.64" cy="251.46" r="2.45"/><circle cx="381.19" cy="249.01" r="2.45"/><circle cx="389.37" cy="250.65" r="2.45"/><circle cx="397.55" cy="252.28" r="2.45"/><circle cx="404.10" cy="249.01" r="2.45"/><circle cx="411.46" cy="253.10" r="2.45"/><circle cx="418.83" cy="249.83" r="2.45"/><circle cx="425.38" cy="251.46" r="2.45"/><circle cx="432.74" cy="249.01" r="2.45"/><circle cx="440.11" cy="252.28" r="2.45"/><circle cx="361.55" cy="262.10" r="2.45"/><circle cx="369.73" cy="257.19" r="2.45"/><circle cx="376.28" cy="259.65" r="2.45"/><circle cx="384.46" cy="256.37" r="2.45"/><circle cx="391.01" cy="260.47" r="2.45"/><circle cx="399.19" cy="256.37" r="2.45"/><circle cx="405.74" cy="259.65" r="2.45"/><circle cx="412.28" cy="257.19" r="2.45"/><circle cx="422.10" cy="258.01" r="2.45"/><circle cx="428.65" cy="261.28" r="2.45"/><circle cx="435.20" cy="257.19" r="2.45"/><circle cx="441.74" cy="260.47" r="2.45"/><circle cx="369.73" cy="263.74" r="2.45"/><circle cx="382.82" cy="263.74" r="2.45"/><circle cx="404.10" cy="264.56" r="2.45"/><circle cx="417.19" cy="263.74" r="2.45"/><circle cx="364.82" cy="268.64" r="2.45"/><circle cx="373.00" cy="270.27" r="2.45"/><circle cx="378.73" cy="270.77" r="2.45"/><circle cx="382.00" cy="276.82" r="2.45"/><circle cx="387.73" cy="279.28" r="2.45"/><circle cx="387.73" cy="268.64" r="2.45"/><circle cx="392.64" cy="269.46" r="2.45"/><circle cx="394.28" cy="277.64" r="2.45"/><circle cx="399.19" cy="280.91" r="2.45"/><circle cx="404.92" cy="279.28" r="2.45"/><circle cx="400.83" cy="272.73" r="2.45"/><circle cx="409.01" cy="267.00" r="2.45"/><circle cx="414.74" cy="271.09" r="2.45"/><circle cx="420.47" cy="269.46" r="2.45"/><circle cx="427.01" cy="267.00" r="2.45"/><circle cx="427.83" cy="274.37" r="2.45"/><circle cx="432.74" cy="277.64" r="2.45"/><circle cx="430.29" cy="284.19" r="2.45"/><circle cx="412.28" cy="287.13" r="2.45"/><circle cx="426.19" cy="292.04" r="2.45"/><circle cx="441.74" cy="269.46" r="2.45"/><circle cx="441.74" cy="272.73" r="2.45"/><circle cx="404.30" cy="252.01" r="2.45"/><circle cx="404.70" cy="242.70" r="2.45"/><circle cx="433.99" cy="241.20" r="2.45"/><circle cx="387.45" cy="253.15" r="2.45"/><circle cx="394.94" cy="257.00" r="2.45"/><circle cx="407.56" cy="254.91" r="2.45"/><circle cx="415.34" cy="252.83" r="2.45"/><circle cx="420.36" cy="245.18" r="2.45"/><circle cx="351.43" cy="249.80" r="2.45"/><circle cx="395.59" cy="250.68" r="2.45"/><circle cx="369.90" cy="273.33" r="2.45"/><circle cx="405.76" cy="222.59" r="2.45"/><circle cx="361.66" cy="252.34" r="2.45"/><circle cx="363.32" cy="255.42" r="2.45"/><circle cx="407.99" cy="235.86" r="2.45"/><circle cx="409.63" cy="260.13" r="2.45"/><circle cx="400.92" cy="253.06" r="2.45"/><circle cx="408.31" cy="240.21" r="2.45"/><circle cx="383.56" cy="225.46" r="2.45"/><circle cx="399.33" cy="238.58" r="2.45"/><circle cx="366.67" cy="241.80" r="2.45"/><circle cx="422.63" cy="267.68" r="2.45"/><circle cx="382.18" cy="267.45" r="2.45"/><circle cx="379.61" cy="258.99" r="2.45"/><circle cx="372.38" cy="267.22" r="2.45"/><circle cx="349.30" cy="246.84" r="2.45"/><circle cx="365.29" cy="253.38" r="2.45"/><circle cx="359.17" cy="256.56" r="2.45"/><circle cx="426.64" cy="255.52" r="2.45"/><circle cx="391.17" cy="229.35" r="2.45"/><circle cx="374.67" cy="257.99" r="2.45"/><circle cx="383.45" cy="241.54" r="2.45"/><circle cx="385.64" cy="240.06" r="2.45"/><circle cx="420.99" cy="255.28" r="2.45"/><circle cx="350.08" cy="240.27" r="2.45"/><circle cx="425.66" cy="236.23" r="2.45"/><circle cx="419.32" cy="234.18" r="2.45"/><circle cx="393.54" cy="259.13" r="2.45"/><circle cx="416.09" cy="223.77" r="2.45"/><circle cx="393.50" cy="265.83" r="2.45"/><circle cx="366.16" cy="245.50" r="2.45"/><circle cx="385.52" cy="250.38" r="2.45"/><circle cx="401.79" cy="248.07" r="2.45"/><circle cx="406.90" cy="265.28" r="2.45"/><circle cx="434.49" cy="261.51" r="2.45"/><circle cx="359.25" cy="243.28" r="2.45"/><circle cx="374.18" cy="243.18" r="2.45"/><circle cx="378.15" cy="244.71" r="2.45"/><circle cx="422.80" cy="264.53" r="2.45"/><circle cx="428.71" cy="222.48" r="2.45"/><circle cx="374.33" cy="253.80" r="2.45"/><circle cx="412.00" cy="243.30" r="2.45"/><circle cx="402.56" cy="258.98" r="2.45"/><circle cx="432.27" cy="252.30" r="2.45"/><circle cx="390.18" cy="254.86" r="2.45"/><circle cx="403.99" cy="267.39" r="2.45"/><circle cx="377.33" cy="241.29" r="2.45"/><circle cx="391.50" cy="234.29" r="2.45"/><circle cx="378.37" cy="223.87" r="2.45"/><circle cx="358.61" cy="248.56" r="2.45"/><circle cx="397.69" cy="231.07" r="2.45"/><circle cx="443.10" cy="248.97" r="2.45"/><circle cx="398.05" cy="276.70" r="2.45"/><circle cx="377.57" cy="274.94" r="2.45"/><circle cx="412.05" cy="264.00" r="2.45"/><circle cx="430.40" cy="254.44" r="2.45"/><circle cx="404.88" cy="254.68" r="2.45"/><circle cx="422.48" cy="230.01" r="2.45"/><circle cx="393.70" cy="263.45" r="2.45"/><circle cx="430.34" cy="239.98" r="2.45"/><circle cx="376.58" cy="253.03" r="2.45"/><circle cx="365.67" cy="237.05" r="2.45"/><circle cx="436.10" cy="264.38" r="2.45"/><circle cx="396.85" cy="224.27" r="2.45"/><circle cx="405.74" cy="233.04" r="2.45"/><circle cx="359.70" cy="240.02" r="2.45"/><circle cx="418.68" cy="271.06" r="2.45"/><circle cx="425.89" cy="221.71" r="2.45"/><circle cx="391.77" cy="251.11" r="2.45"/><circle cx="351.47" cy="235.93" r="2.45"/><circle cx="415.76" cy="240.85" r="2.45"/><circle cx="355.11" cy="239.20" r="2.45"/><circle cx="410.46" cy="247.36" r="2.45"/><circle cx="404.55" cy="228.35" r="2.45"/><circle cx="380.04" cy="237.35" r="2.45"/><circle cx="397.43" cy="245.85" r="2.45"/><circle cx="388.85" cy="276.16" r="2.45"/><circle cx="371.44" cy="245.04" r="2.45"/><circle cx="409.11" cy="227.41" r="2.45"/><circle cx="384.77" cy="232.17" r="2.45"/><circle cx="387.47" cy="257.76" r="2.45"/><circle cx="401.04" cy="221.03" r="2.45"/><circle cx="372.39" cy="220.32" r="2.45"/><circle cx="394.12" cy="253.46" r="2.45"/><circle cx="407.73" cy="225.27" r="2.45"/><circle cx="361.51" cy="233.78" r="2.45"/><circle cx="416.21" cy="246.97" r="2.45"/><circle cx="375.55" cy="248.85" r="2.45"/><circle cx="440.97" cy="255.54" r="2.45"/><circle cx="390.02" cy="262.56" r="2.45"/><circle cx="381.44" cy="226.57" r="2.45"/><circle cx="438.97" cy="259.00" r="2.45"/><circle cx="372.01" cy="260.60" r="2.45"/><circle cx="396.27" cy="268.71" r="2.45"/><circle cx="396.81" cy="265.05" r="2.45"/><circle cx="369.04" cy="221.31" r="2.45"/><circle cx="399.02" cy="259.14" r="2.45"/><circle cx="426.82" cy="230.47" r="2.45"/><circle cx="445.21" cy="254.76" r="2.45"/><circle cx="398.19" cy="228.75" r="2.45"/><circle cx="411.46" cy="271.74" r="2.45"/><circle cx="369.01" cy="249.55" r="2.45"/><circle cx="384.99" cy="266.03" r="2.45"/><circle cx="418.67" cy="240.59" r="2.45"/><circle cx="419.96" cy="236.94" r="2.45"/><circle cx="369.34" cy="260.62" r="2.45"/><circle cx="402.88" cy="240.34" r="2.45"/><circle cx="417.46" cy="238.49" r="2.45"/><circle cx="381.37" cy="273.32" r="2.45"/><circle cx="392.03" cy="245.04" r="2.45"/><circle cx="417.77" cy="257.99" r="2.45"/><circle cx="385.45" cy="260.74" r="2.45"/><circle cx="365.13" cy="247.56" r="2.45"/><circle cx="351.15" cy="252.24" r="2.45"/><circle cx="397.20" cy="254.73" r="2.45"/><circle cx="407.84" cy="246.19" r="2.45"/><circle cx="399.07" cy="225.97" r="2.45"/><circle cx="408.68" cy="251.40" r="2.45"/><circle cx="409.77" cy="233.36" r="2.45"/><circle cx="409.60" cy="276.53" r="2.45"/><circle cx="411.30" cy="269.23" r="2.45"/><circle cx="416.61" cy="229.90" r="2.45"/><circle cx="353.79" cy="243.07" r="2.45"/><circle cx="429.70" cy="270.46" r="2.45"/><circle cx="370.41" cy="254.24" r="2.45"/><circle cx="386.73" cy="262.82" r="2.45"/><circle cx="428.78" cy="241.79" r="2.45"/><circle cx="372.07" cy="231.88" r="2.45"/><circle cx="403.58" cy="231.24" r="2.45"/><circle cx="387.14" cy="274.32" r="2.45"/><circle cx="415.25" cy="220.58" r="2.45"/><circle cx="430.28" cy="247.19" r="2.45"/><circle cx="388.96" cy="247.41" r="2.45"/><circle cx="432.09" cy="232.87" r="2.45"/><circle cx="437.36" cy="232.14" r="2.45"/><circle cx="432.33" cy="243.12" r="2.45"/><circle cx="427.72" cy="237.75" r="2.45"/><circle cx="430.05" cy="233.94" r="2.45"/><circle cx="437.47" cy="238.97" r="2.45"/><circle cx="430.88" cy="227.22" r="2.45"/><circle cx="443.35" cy="234.39" r="2.45"/><circle cx="422.91" cy="247.85" r="2.45"/><circle cx="423.85" cy="245.74" r="2.45"/><circle cx="417.34" cy="244.75" r="2.45"/><circle cx="435.34" cy="252.79" r="2.45"/><circle cx="422.85" cy="236.34" r="2.45"/><circle cx="426.65" cy="240.22" r="2.45"/><circle cx="425.69" cy="247.72" r="2.45"/></g>
<line x1="311.50" y1="247.12" x2="542.75" y2="247.12" stroke="#FA8C1E" stroke-width="1.6" stroke-dasharray="5 5.07"/>
<rect x="311.50" y="176.00" width="231.25" height="142.25" fill="none" stroke="#2b2b2b" stroke-width="1.35"/>
<line x1="311.50" y1="318.25" x2="311.50" y2="321.55" stroke="#2b2b2b" stroke-width="1.35" />
<text transform="translate(311.50,331.25) scale(1.07,1)" font-size="9.6" text-anchor="middle" >8</text>
<line x1="362.89" y1="318.25" x2="362.89" y2="321.55" stroke="#2b2b2b" stroke-width="1.35" />
<text transform="translate(362.89,331.25) scale(1.07,1)" font-size="9.6" text-anchor="middle" >12</text>
<line x1="414.28" y1="318.25" x2="414.28" y2="321.55" stroke="#2b2b2b" stroke-width="1.35" />
<text transform="translate(414.28,331.25) scale(1.07,1)" font-size="9.6" text-anchor="middle" >16</text>
<line x1="465.67" y1="318.25" x2="465.67" y2="321.55" stroke="#2b2b2b" stroke-width="1.35" />
<text transform="translate(465.67,331.25) scale(1.07,1)" font-size="9.6" text-anchor="middle" >20</text>
<line x1="517.06" y1="318.25" x2="517.06" y2="321.55" stroke="#2b2b2b" stroke-width="1.35" />
<text transform="translate(517.06,331.25) scale(1.07,1)" font-size="9.6" text-anchor="middle" >24</text>
<line x1="337.19" y1="318.25" x2="337.19" y2="320.25" stroke="#2b2b2b" stroke-width="1.35" />
<line x1="388.58" y1="318.25" x2="388.58" y2="320.25" stroke="#2b2b2b" stroke-width="1.35" />
<line x1="439.97" y1="318.25" x2="439.97" y2="320.25" stroke="#2b2b2b" stroke-width="1.35" />
<line x1="491.36" y1="318.25" x2="491.36" y2="320.25" stroke="#2b2b2b" stroke-width="1.35" />
<line x1="542.75" y1="318.25" x2="542.75" y2="320.25" stroke="#2b2b2b" stroke-width="1.35" />
<line x1="311.50" y1="318.25" x2="308.20" y2="318.25" stroke="#2b2b2b" stroke-width="1.35" />
<text transform="translate(306.90,322.05) scale(1.07,1)" font-size="9.6" text-anchor="end" >-10</text>
<line x1="311.50" y1="282.69" x2="308.20" y2="282.69" stroke="#2b2b2b" stroke-width="1.35" />
<text transform="translate(306.90,286.49) scale(1.07,1)" font-size="9.6" text-anchor="end" >-5</text>
<line x1="311.50" y1="247.12" x2="308.20" y2="247.12" stroke="#2b2b2b" stroke-width="1.35" />
<text transform="translate(306.90,250.93) scale(1.07,1)" font-size="9.6" text-anchor="end" >0</text>
<line x1="311.50" y1="211.56" x2="308.20" y2="211.56" stroke="#2b2b2b" stroke-width="1.35" />
<text transform="translate(306.90,215.36) scale(1.07,1)" font-size="9.6" text-anchor="end" >5</text>
<line x1="311.50" y1="176.00" x2="308.20" y2="176.00" stroke="#2b2b2b" stroke-width="1.35" />
<text transform="translate(306.90,179.80) scale(1.07,1)" font-size="9.6" text-anchor="end" >10</text>
<line x1="311.50" y1="300.47" x2="309.50" y2="300.47" stroke="#2b2b2b" stroke-width="1.35" />
<line x1="311.50" y1="264.91" x2="309.50" y2="264.91" stroke="#2b2b2b" stroke-width="1.35" />
<line x1="311.50" y1="229.34" x2="309.50" y2="229.34" stroke="#2b2b2b" stroke-width="1.35" />
<line x1="311.50" y1="193.78" x2="309.50" y2="193.78" stroke="#2b2b2b" stroke-width="1.35" />
<g fill="none" stroke="#00FFFF" stroke-width="1.6"><circle cx="325.94" cy="411.25" r="2.45"/><circle cx="334.81" cy="416.82" r="2.45"/><circle cx="323.40" cy="424.42" r="2.45"/><circle cx="328.47" cy="424.93" r="2.45"/><circle cx="333.54" cy="430.00" r="2.45"/><circle cx="338.61" cy="432.53" r="2.45"/><circle cx="344.94" cy="434.56" r="2.45"/><circle cx="344.44" cy="430.00" r="2.45"/><circle cx="338.61" cy="399.59" r="2.45"/><circle cx="344.94" cy="402.12" r="2.45"/><circle cx="347.48" cy="413.02" r="2.45"/><circle cx="343.68" cy="420.62" r="2.45"/><circle cx="353.64" cy="412.36" r="2.45"/><circle cx="352.73" cy="423.27" r="2.45"/><circle cx="447.67" cy="392.80" r="2.45"/><circle cx="457.00" cy="405.87" r="2.45"/><circle cx="445.00" cy="413.33" r="2.45"/><circle cx="446.33" cy="417.33" r="2.45"/><circle cx="447.13" cy="421.33" r="2.45"/><circle cx="463.67" cy="415.20" r="2.45"/><circle cx="468.47" cy="420.00" r="2.45"/><circle cx="462.33" cy="422.67" r="2.45"/><circle cx="455.13" cy="424.00" r="2.45"/><circle cx="477.00" cy="422.13" r="2.45"/><circle cx="478.33" cy="420.53" r="2.45"/><circle cx="482.33" cy="412.80" r="2.45"/><circle cx="489.00" cy="416.80" r="2.45"/><circle cx="498.33" cy="424.80" r="2.45"/><circle cx="509.00" cy="424.80" r="2.45"/><circle cx="515.67" cy="427.47" r="2.45"/><circle cx="527.13" cy="426.67" r="2.45"/><circle cx="529.00" cy="430.13" r="2.45"/><circle cx="466.87" cy="430.67" r="2.45"/><circle cx="471.67" cy="428.00" r="2.45"/><circle cx="474.33" cy="430.67" r="2.45"/><circle cx="478.33" cy="428.00" r="2.45"/><circle cx="482.33" cy="433.33" r="2.45"/><circle cx="450.33" cy="430.13" r="2.45"/><circle cx="446.33" cy="433.33" r="2.45"/><circle cx="452.47" cy="433.87" r="2.45"/><circle cx="491.67" cy="436.00" r="2.45"/><circle cx="503.67" cy="431.47" r="2.45"/><circle cx="498.33" cy="442.67" r="2.45"/><circle cx="520.20" cy="439.47" r="2.45"/><circle cx="445.00" cy="448.00" r="2.45"/><circle cx="377.91" cy="381.55" r="2.45"/><circle cx="438.80" cy="380.73" r="2.45"/><circle cx="355.82" cy="392.18" r="2.45"/><circle cx="374.31" cy="397.09" r="2.45"/><circle cx="386.10" cy="393.82" r="2.45"/><circle cx="388.55" cy="395.46" r="2.45"/><circle cx="398.37" cy="392.18" r="2.45"/><circle cx="400.01" cy="390.55" r="2.45"/><circle cx="407.37" cy="389.40" r="2.45"/><circle cx="384.46" cy="401.19" r="2.45"/><circle cx="395.92" cy="401.19" r="2.45"/><circle cx="410.65" cy="396.28" r="2.45"/><circle cx="405.74" cy="401.19" r="2.45"/><circle cx="415.56" cy="401.19" r="2.45"/><circle cx="434.38" cy="401.19" r="2.45"/><circle cx="444.20" cy="393.00" r="2.45"/><circle cx="358.27" cy="406.91" r="2.45"/><circle cx="364.00" cy="406.91" r="2.45"/><circle cx="373.82" cy="406.10" r="2.45"/><circle cx="380.37" cy="410.19" r="2.45"/><circle cx="386.91" cy="409.37" r="2.45"/><circle cx="394.28" cy="405.28" r="2.45"/><circle cx="400.01" cy="408.55" r="2.45"/><circle cx="405.74" cy="406.10" r="2.45"/><circle cx="412.28" cy="408.55" r="2.45"/><circle cx="420.47" cy="407.73" r="2.45"/><circle cx="425.38" cy="404.46" r="2.45"/><circle cx="431.10" cy="408.55" r="2.45"/><circle cx="438.47" cy="410.19" r="2.45"/><circle cx="359.91" cy="411.82" r="2.45"/><circle cx="368.91" cy="415.10" r="2.45"/><circle cx="374.64" cy="413.46" r="2.45"/><circle cx="383.64" cy="414.28" r="2.45"/><circle cx="390.19" cy="415.10" r="2.45"/><circle cx="396.73" cy="413.46" r="2.45"/><circle cx="403.28" cy="415.92" r="2.45"/><circle cx="409.83" cy="412.64" r="2.45"/><circle cx="416.37" cy="414.28" r="2.45"/><circle cx="423.74" cy="413.46" r="2.45"/><circle cx="428.65" cy="415.92" r="2.45"/><circle cx="436.83" cy="414.28" r="2.45"/><circle cx="444.20" cy="415.10" r="2.45"/><circle cx="357.45" cy="419.19" r="2.45"/><circle cx="364.00" cy="421.64" r="2.45"/><circle cx="371.37" cy="422.46" r="2.45"/><circle cx="378.73" cy="420.01" r="2.45"/><circle cx="386.10" cy="421.64" r="2.45"/><circle cx="393.46" cy="420.01" r="2.45"/><circle cx="399.19" cy="422.46" r="2.45"/><circle cx="406.55" cy="420.01" r="2.45"/><circle cx="413.10" cy="422.46" r="2.45"/><circle cx="420.47" cy="420.01" r="2.45"/><circle cx="427.01" cy="422.46" r="2.45"/><circle cx="435.20" cy="420.01" r="2.45"/><circle cx="441.74" cy="421.64" r="2.45"/><circle cx="359.91" cy="432.28" r="2.45"/><circle cx="367.27" cy="429.83" r="2.45"/><circle cx="374.64" cy="430.65" r="2.45"/><circle cx="381.19" cy="427.37" r="2.45"/><circle cx="387.73" cy="429.83" r="2.45"/><circle cx="394.28" cy="428.19" r="2.45"/><circle cx="401.64" cy="431.46" r="2.45"/><circle cx="407.37" cy="429.01" r="2.45"/><circle cx="413.92" cy="430.65" r="2.45"/><circle cx="420.47" cy="429.01" r="2.45"/><circle cx="427.83" cy="431.46" r="2.45"/><circle cx="435.20" cy="428.19" r="2.45"/><circle cx="441.74" cy="430.65" r="2.45"/><circle cx="364.00" cy="437.19" r="2.45"/><circle cx="371.37" cy="438.01" r="2.45"/><circle cx="377.91" cy="435.56" r="2.45"/><circle cx="385.28" cy="438.83" r="2.45"/><circle cx="392.64" cy="436.37" r="2.45"/><circle cx="399.19" cy="438.83" r="2.45"/><circle cx="405.74" cy="436.37" r="2.45"/><circle cx="412.28" cy="438.01" r="2.45"/><circle cx="419.65" cy="436.37" r="2.45"/><circle cx="425.38" cy="438.83" r="2.45"/><circle cx="431.92" cy="437.19" r="2.45"/><circle cx="438.47" cy="439.65" r="2.45"/><circle cx="368.09" cy="443.74" r="2.45"/><circle cx="376.28" cy="443.74" r="2.45"/><circle cx="391.01" cy="443.74" r="2.45"/><circle cx="404.10" cy="443.74" r="2.45"/><circle cx="420.47" cy="443.74" r="2.45"/><circle cx="430.29" cy="442.10" r="2.45"/><circle cx="365.64" cy="446.00" r="2.45"/><circle cx="375.46" cy="450.09" r="2.45"/><circle cx="382.00" cy="447.64" r="2.45"/><circle cx="381.19" cy="453.37" r="2.45"/><circle cx="388.55" cy="444.36" r="2.45"/><circle cx="392.64" cy="450.09" r="2.45"/><circle cx="391.82" cy="455.00" r="2.45"/><circle cx="398.37" cy="454.18" r="2.45"/><circle cx="394.28" cy="452.55" r="2.45"/><circle cx="404.10" cy="448.46" r="2.45"/><circle cx="407.37" cy="447.64" r="2.45"/><circle cx="410.65" cy="452.55" r="2.45"/><circle cx="408.19" cy="459.09" r="2.45"/><circle cx="406.55" cy="463.19" r="2.45"/><circle cx="418.01" cy="446.00" r="2.45"/><circle cx="418.01" cy="455.82" r="2.45"/><circle cx="422.10" cy="452.55" r="2.45"/><circle cx="427.83" cy="452.55" r="2.45"/><circle cx="427.01" cy="446.00" r="2.45"/><circle cx="435.20" cy="452.55" r="2.45"/><circle cx="439.29" cy="449.27" r="2.45"/><circle cx="443.38" cy="447.64" r="2.45"/><circle cx="420.47" cy="467.28" r="2.45"/><circle cx="418.24" cy="427.13" r="2.45"/><circle cx="430.12" cy="424.19" r="2.45"/><circle cx="383.16" cy="433.50" r="2.45"/><circle cx="441.23" cy="435.01" r="2.45"/><circle cx="409.09" cy="416.65" r="2.45"/><circle cx="384.06" cy="427.00" r="2.45"/><circle cx="403.35" cy="452.79" r="2.45"/><circle cx="393.64" cy="432.40" r="2.45"/><circle cx="418.21" cy="449.31" r="2.45"/><circle cx="413.16" cy="428.41" r="2.45"/><circle cx="388.60" cy="405.25" r="2.45"/><circle cx="417.69" cy="434.28" r="2.45"/><circle cx="435.56" cy="422.65" r="2.45"/><circle cx="421.02" cy="423.30" r="2.45"/><circle cx="368.58" cy="440.31" r="2.45"/><circle cx="415.23" cy="435.63" r="2.45"/><circle cx="360.19" cy="441.51" r="2.45"/><circle cx="391.75" cy="423.47" r="2.45"/><circle cx="422.44" cy="421.35" r="2.45"/><circle cx="419.44" cy="432.79" r="2.45"/><circle cx="419.18" cy="401.38" r="2.45"/><circle cx="384.29" cy="436.11" r="2.45"/><circle cx="412.87" cy="455.33" r="2.45"/><circle cx="384.44" cy="448.40" r="2.45"/><circle cx="392.81" cy="415.45" r="2.45"/><circle cx="363.83" cy="424.33" r="2.45"/><circle cx="405.85" cy="417.74" r="2.45"/><circle cx="388.75" cy="402.80" r="2.45"/><circle cx="401.83" cy="426.51" r="2.45"/><circle cx="369.97" cy="447.22" r="2.45"/><circle cx="376.69" cy="417.11" r="2.45"/><circle cx="367.13" cy="435.70" r="2.45"/><circle cx="433.93" cy="424.94" r="2.45"/><circle cx="405.87" cy="412.18" r="2.45"/><circle cx="391.05" cy="403.18" r="2.45"/><circle cx="383.52" cy="418.09" r="2.45"/><circle cx="406.91" cy="434.34" r="2.45"/><circle cx="394.34" cy="412.31" r="2.45"/><circle cx="397.08" cy="403.23" r="2.45"/><circle cx="379.65" cy="415.66" r="2.45"/><circle cx="413.65" cy="433.90" r="2.45"/><circle cx="373.20" cy="408.80" r="2.45"/><circle cx="385.57" cy="450.96" r="2.45"/><circle cx="378.26" cy="407.71" r="2.45"/><circle cx="407.40" cy="426.34" r="2.45"/><circle cx="397.65" cy="425.38" r="2.45"/><circle cx="413.68" cy="414.60" r="2.45"/><circle cx="418.33" cy="440.83" r="2.45"/><circle cx="408.92" cy="430.97" r="2.45"/><circle cx="400.45" cy="442.90" r="2.45"/><circle cx="383.08" cy="444.23" r="2.45"/><circle cx="420.89" cy="413.11" r="2.45"/><circle cx="423.93" cy="443.75" r="2.45"/><circle cx="376.30" cy="411.60" r="2.45"/><circle cx="372.22" cy="426.73" r="2.45"/><circle cx="428.35" cy="413.00" r="2.45"/><circle cx="388.04" cy="423.19" r="2.45"/><circle cx="415.94" cy="425.62" r="2.45"/><circle cx="396.72" cy="428.55" r="2.45"/><circle cx="420.21" cy="417.61" r="2.45"/><circle cx="395.15" cy="415.58" r="2.45"/><circle cx="386.01" cy="405.17" r="2.45"/><circle cx="364.52" cy="429.51" r="2.45"/><circle cx="358.67" cy="425.17" r="2.45"/><circle cx="412.90" cy="444.59" r="2.45"/><circle cx="410.80" cy="434.39" r="2.45"/><circle cx="373.96" cy="424.58" r="2.45"/><circle cx="381.26" cy="424.06" r="2.45"/><circle cx="409.10" cy="422.59" r="2.45"/><circle cx="380.93" cy="420.94" r="2.45"/><circle cx="403.33" cy="429.53" r="2.45"/><circle cx="395.43" cy="441.46" r="2.45"/><circle cx="403.30" cy="420.10" r="2.45"/><circle cx="428.74" cy="438.59" r="2.45"/><circle cx="423.00" cy="446.28" r="2.45"/><circle cx="418.02" cy="411.10" r="2.45"/><circle cx="397.09" cy="421.14" r="2.45"/><circle cx="377.95" cy="426.47" r="2.45"/><circle cx="401.98" cy="434.16" r="2.45"/><circle cx="389.07" cy="437.20" r="2.45"/><circle cx="402.54" cy="456.90" r="2.45"/><circle cx="362.55" cy="431.39" r="2.45"/><circle cx="375.14" cy="433.45" r="2.45"/><circle cx="390.77" cy="418.49" r="2.45"/><circle cx="372.56" cy="445.40" r="2.45"/><circle cx="431.69" cy="429.91" r="2.45"/><circle cx="412.83" cy="410.95" r="2.45"/><circle cx="362.41" cy="434.23" r="2.45"/><circle cx="431.38" cy="433.98" r="2.45"/><circle cx="431.26" cy="439.77" r="2.45"/><circle cx="391.59" cy="411.37" r="2.45"/><circle cx="361.08" cy="417.74" r="2.45"/><circle cx="431.79" cy="412.62" r="2.45"/><circle cx="357.99" cy="437.89" r="2.45"/><circle cx="391.80" cy="446.44" r="2.45"/><circle cx="362.56" cy="412.04" r="2.45"/><circle cx="384.81" cy="455.26" r="2.45"/><circle cx="375.35" cy="404.14" r="2.45"/><circle cx="397.89" cy="432.28" r="2.45"/><circle cx="445.54" cy="426.37" r="2.45"/><circle cx="436.47" cy="408.79" r="2.45"/><circle cx="425.16" cy="417.30" r="2.45"/><circle cx="423.37" cy="430.24" r="2.45"/><circle cx="379.10" cy="443.86" r="2.45"/><circle cx="399.37" cy="411.74" r="2.45"/><circle cx="414.49" cy="440.97" r="2.45"/><circle cx="375.75" cy="419.80" r="2.45"/><circle cx="431.58" cy="418.96" r="2.45"/><circle cx="422.37" cy="432.99" r="2.45"/><circle cx="413.48" cy="449.19" r="2.45"/><circle cx="369.00" cy="421.06" r="2.45"/><circle cx="426.51" cy="424.94" r="2.45"/><circle cx="412.40" cy="404.56" r="2.45"/><circle cx="383.09" cy="411.61" r="2.45"/><circle cx="434.38" cy="414.26" r="2.45"/><circle cx="357.08" cy="422.60" r="2.45"/><circle cx="397.16" cy="448.17" r="2.45"/><circle cx="411.89" cy="425.97" r="2.45"/><circle cx="415.71" cy="404.38" r="2.45"/><circle cx="423.05" cy="410.16" r="2.45"/><circle cx="389.46" cy="425.85" r="2.45"/><circle cx="394.87" cy="448.39" r="2.45"/><circle cx="400.77" cy="415.66" r="2.45"/><circle cx="416.87" cy="418.11" r="2.45"/><circle cx="401.62" cy="448.74" r="2.45"/><circle cx="415.12" cy="446.00" r="2.45"/><circle cx="415.82" cy="420.71" r="2.45"/><circle cx="368.88" cy="425.93" r="2.45"/><circle cx="409.73" cy="445.78" r="2.45"/><circle cx="419.00" cy="424.57" r="2.45"/></g>
<line x1="312.60" y1="426.30" x2="543.50" y2="426.30" stroke="#FA8C1E" stroke-width="1.6" stroke-dasharray="5 5.07"/>
<rect x="312.60" y="355.60" width="230.90" height="141.40" fill="none" stroke="#2b2b2b" stroke-width="1.35"/>
<line x1="312.60" y1="497.00" x2="312.60" y2="500.30" stroke="#2b2b2b" stroke-width="1.35" />
<text transform="translate(312.60,510.00) scale(1.07,1)" font-size="9.6" text-anchor="middle" >8</text>
<line x1="363.91" y1="497.00" x2="363.91" y2="500.30" stroke="#2b2b2b" stroke-width="1.35" />
<text transform="translate(363.91,510.00) scale(1.07,1)" font-size="9.6" text-anchor="middle" >12</text>
<line x1="415.22" y1="497.00" x2="415.22" y2="500.30" stroke="#2b2b2b" stroke-width="1.35" />
<text transform="translate(415.22,510.00) scale(1.07,1)" font-size="9.6" text-anchor="middle" >16</text>
<line x1="466.53" y1="497.00" x2="466.53" y2="500.30" stroke="#2b2b2b" stroke-width="1.35" />
<text transform="translate(466.53,510.00) scale(1.07,1)" font-size="9.6" text-anchor="middle" >20</text>
<line x1="517.84" y1="497.00" x2="517.84" y2="500.30" stroke="#2b2b2b" stroke-width="1.35" />
<text transform="translate(517.84,510.00) scale(1.07,1)" font-size="9.6" text-anchor="middle" >24</text>
<line x1="338.26" y1="497.00" x2="338.26" y2="499.00" stroke="#2b2b2b" stroke-width="1.35" />
<line x1="389.57" y1="497.00" x2="389.57" y2="499.00" stroke="#2b2b2b" stroke-width="1.35" />
<line x1="440.88" y1="497.00" x2="440.88" y2="499.00" stroke="#2b2b2b" stroke-width="1.35" />
<line x1="492.19" y1="497.00" x2="492.19" y2="499.00" stroke="#2b2b2b" stroke-width="1.35" />
<line x1="543.50" y1="497.00" x2="543.50" y2="499.00" stroke="#2b2b2b" stroke-width="1.35" />
<line x1="312.60" y1="497.00" x2="309.30" y2="497.00" stroke="#2b2b2b" stroke-width="1.35" />
<text transform="translate(308.00,500.20) scale(1.07,1)" font-size="9.6" text-anchor="end" >-10</text>
<line x1="312.60" y1="461.65" x2="309.30" y2="461.65" stroke="#2b2b2b" stroke-width="1.35" />
<text transform="translate(308.00,464.85) scale(1.07,1)" font-size="9.6" text-anchor="end" >-5</text>
<line x1="312.60" y1="426.30" x2="309.30" y2="426.30" stroke="#2b2b2b" stroke-width="1.35" />
<text transform="translate(308.00,429.50) scale(1.07,1)" font-size="9.6" text-anchor="end" >0</text>
<line x1="312.60" y1="390.95" x2="309.30" y2="390.95" stroke="#2b2b2b" stroke-width="1.35" />
<text transform="translate(308.00,394.15) scale(1.07,1)" font-size="9.6" text-anchor="end" >5</text>
<line x1="312.60" y1="355.60" x2="309.30" y2="355.60" stroke="#2b2b2b" stroke-width="1.35" />
<text transform="translate(308.00,358.80) scale(1.07,1)" font-size="9.6" text-anchor="end" >10</text>
<line x1="312.60" y1="479.32" x2="310.60" y2="479.32" stroke="#2b2b2b" stroke-width="1.35" />
<line x1="312.60" y1="443.98" x2="310.60" y2="443.98" stroke="#2b2b2b" stroke-width="1.35" />
<line x1="312.60" y1="408.62" x2="310.60" y2="408.62" stroke="#2b2b2b" stroke-width="1.35" />
<line x1="312.60" y1="373.28" x2="310.60" y2="373.28" stroke="#2b2b2b" stroke-width="1.35" />
<text transform="translate(47.39,23.30) scale(1.0151,1)" font-size="10.7">(a) MLR</text>
<text transform="translate(319.40,25.10) scale(1.0099,1)" font-size="10.7">(b) MLR</text>
<text transform="translate(50.19,189.20) scale(1.0274,1)" font-size="10.7">(c) ANN</text>
<text transform="translate(319.09,191.40) scale(1.0239,1)" font-size="10.7">(d) ANN</text>
<text transform="translate(50.69,360.20) scale(1.0210,1)" font-size="10.7">(e) ELM</text>
<text transform="translate(320.70,372.20) scale(1.0027,1)" font-size="10.7">(f) ELM</text>
<text transform="translate(130.00,15.80) scale(1.0066,1)" font-size="10.8">Frequency counts of residuals</text>
<text transform="translate(129.70,30.50) scale(1.0073,1)" font-size="10.8">Guess fit curve</text>
<text transform="translate(13.55,77.85) rotate(-90) scale(1.0196,1) translate(-28.20,0)" font-size="12.4">Frequency</text>
<text transform="translate(12.95,244.45) rotate(-90) scale(1.0054,1) translate(-28.20,0)" font-size="12.4">Frequency</text>
<text transform="translate(14.25,424.30) rotate(-90) scale(1.0250,1) translate(-28.20,0)" font-size="12.4">Frequency</text>
<text transform="translate(290.85,74.10) rotate(-90) scale(1.0376,1) translate(-25.45,0)" font-size="12.4">Residuals</text>
<text transform="translate(291.60,239.20) rotate(-90) scale(1.0535,1) translate(-25.45,0)" font-size="12.4">Residuals</text>
<text transform="translate(296.60,420.15) rotate(-90) scale(1.0634,1) translate(-25.45,0)" font-size="12.4">Residuals</text>
<text transform="translate(133.61,169.70) scale(0.9568,1)" font-size="14.2">Residuals</text>
<text transform="translate(132.91,339.90) scale(0.9620,1)" font-size="14.2">Residuals</text>
<text transform="translate(134.12,521.10) scale(0.9033,1)" font-size="14.2">Residuals</text>
<text transform="translate(361.51,170.90) scale(0.9511,1)" font-size="14.2">Estimated SOM(g kg<tspan font-size="8.0" dy="-5.2">-1</tspan><tspan dy="5.2">)</tspan></text>
<text transform="translate(361.01,349.30) scale(0.9576,1)" font-size="14.2">Estimated SOM(g kg<tspan font-size="8.0" dy="-5.2">-1</tspan><tspan dy="5.2">)</tspan></text>
<text transform="translate(363.21,522.40) scale(0.9656,1)" font-size="14.2">Estimated SOM(g kg<tspan font-size="8.0" dy="-5.2">-1</tspan><tspan dy="5.2">)</tspan></text>
</svg></body></html>
